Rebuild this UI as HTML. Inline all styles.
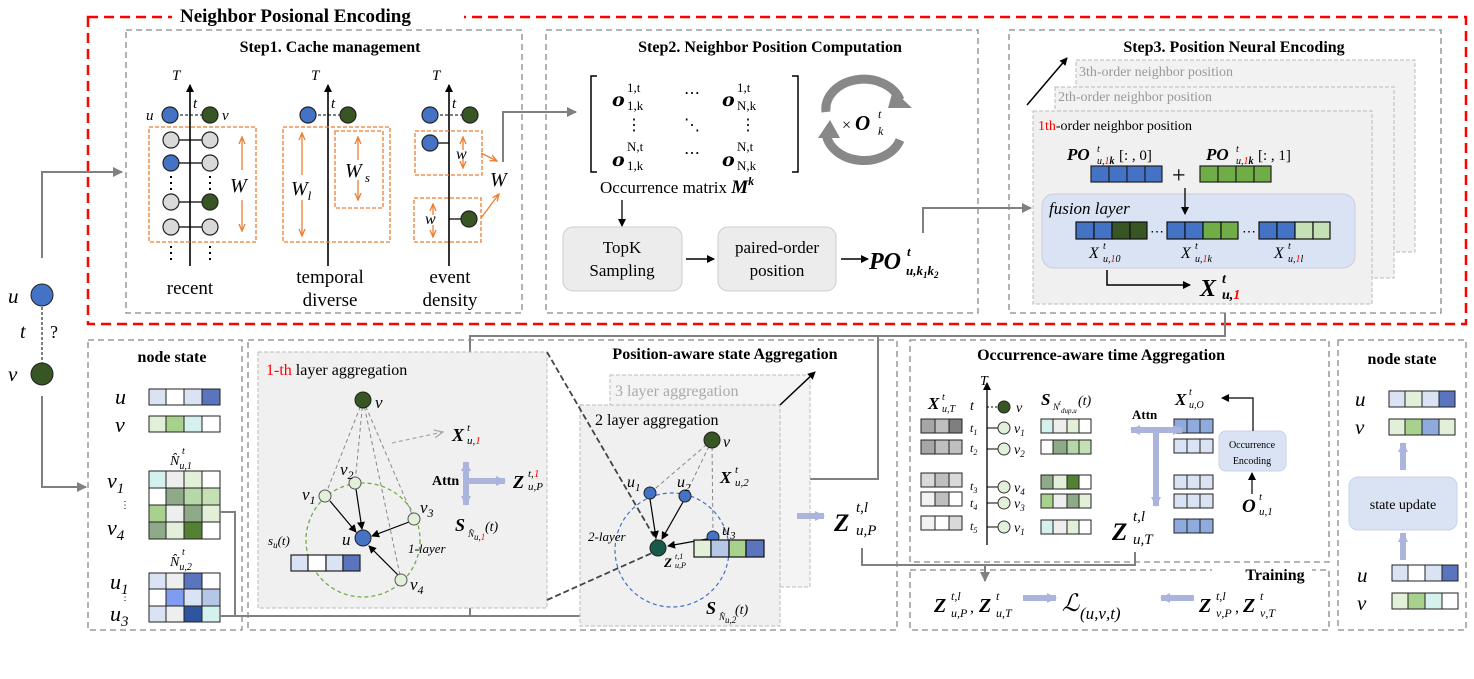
<!DOCTYPE html>
<html><head><meta charset="utf-8"><style>
body{margin:0;background:#fff}
svg{display:block;font-family:"Liberation Serif",serif}
.b{font-weight:bold}
.i{font-style:italic}
</style></head><body>
<svg width="1474" height="679" viewBox="0 0 1474 679" xmlns="http://www.w3.org/2000/svg">
<defs>
<marker id="ak" markerWidth="8" markerHeight="8" refX="7" refY="4" orient="auto" markerUnits="userSpaceOnUse"><path d="M0,0 L8,4 L0,8 z" fill="#000"/></marker>
<marker id="ag" markerWidth="10" markerHeight="10" refX="9" refY="5" orient="auto" markerUnits="userSpaceOnUse"><path d="M0,0 L10,5 L0,10 z" fill="#808080"/></marker>
<marker id="ao" markerWidth="8" markerHeight="8" refX="7" refY="4" orient="auto" markerUnits="userSpaceOnUse"><path d="M0,1 L7,4 L0,7" fill="none" stroke="#ed7d31" stroke-width="1.3"/></marker>
<marker id="al" markerWidth="10" markerHeight="10" refX="9" refY="5" orient="auto" markerUnits="userSpaceOnUse"><path d="M0,0 L10,5 L0,10 z" fill="#aab4dc"/></marker>
<marker id="ad" markerWidth="10" markerHeight="10" refX="9" refY="5" orient="auto" markerUnits="userSpaceOnUse"><path d="M0,1 L9,5 L0,9" fill="none" stroke="#aaa" stroke-width="1.3"/></marker>
</defs>

<!-- red dashed -->
<rect x="88" y="17" width="1378" height="307" fill="none" stroke="#f00" stroke-width="2.5" stroke-dasharray="10,6"/>
<rect x="172" y="2" width="292" height="26" fill="#fff"/>
<text x="180" y="22" font-size="19" class="b">Neighbor Posional Encoding</text>

<!-- Step1 -->
<rect x="126" y="30" width="396" height="283" fill="none" stroke="#888" stroke-width="1.3" stroke-dasharray="6,4"/>
<text x="330" y="52" font-size="16" class="b" text-anchor="middle">Step1. Cache management</text>
<g stroke="#000" stroke-width="1.6">
<line x1="190" y1="266" x2="190" y2="85" marker-end="url(#ak)"/>
<line x1="328" y1="266" x2="328" y2="85" marker-end="url(#ak)"/>
<line x1="449" y1="266" x2="449" y2="85" marker-end="url(#ak)"/>
</g>
<g font-size="15" class="i"><text x="172" y="80">T</text><text x="311" y="80">T</text><text x="432" y="80">T</text>
<text x="193" y="108">t</text><text x="331" y="108">t</text><text x="452" y="108">t</text>
<text x="146" y="120">u</text><text x="222" y="120">ν</text></g>
<g stroke="#000" stroke-dasharray="3,2"><line x1="170" y1="115" x2="210" y2="115"/><line x1="308" y1="115" x2="348" y2="115"/><line x1="430" y1="115" x2="470" y2="115"/></g>
<g stroke="#000" stroke-width="1.3">
<line x1="171" y1="140" x2="210" y2="140"/><line x1="171" y1="163" x2="210" y2="163"/><line x1="171" y1="202" x2="210" y2="202"/><line x1="171" y1="227" x2="210" y2="227"/>
<line x1="430" y1="143" x2="449" y2="143"/><line x1="449" y1="219" x2="469" y2="219"/>
</g>
<g stroke="#222" stroke-width="1.2">
<circle cx="170" cy="115" r="8" fill="#4472c4"/><circle cx="210" cy="115" r="8" fill="#375623"/>
<circle cx="308" cy="115" r="8" fill="#4472c4"/><circle cx="348" cy="115" r="8" fill="#375623"/>
<circle cx="430" cy="115" r="8" fill="#4472c4"/><circle cx="470" cy="115" r="8" fill="#375623"/>
<circle cx="171" cy="140" r="8" fill="#d9d9d9"/><circle cx="210" cy="140" r="8" fill="#d9d9d9"/>
<circle cx="171" cy="163" r="8" fill="#4472c4"/><circle cx="210" cy="163" r="8" fill="#d9d9d9"/>
<circle cx="171" cy="202" r="8" fill="#d9d9d9"/><circle cx="210" cy="202" r="8" fill="#375623"/>
<circle cx="171" cy="227" r="8" fill="#d9d9d9"/><circle cx="210" cy="227" r="8" fill="#d9d9d9"/>
<circle cx="430" cy="143" r="8" fill="#4472c4"/><circle cx="469" cy="219" r="8" fill="#375623"/>
</g>
<g stroke="#000" stroke-width="2" stroke-dasharray="2,4"><line x1="171" y1="176" x2="171" y2="192"/><line x1="210" y1="176" x2="210" y2="192"/><line x1="171" y1="246" x2="171" y2="262"/><line x1="210" y1="246" x2="210" y2="262"/></g>
<g fill="none" stroke="#ed7d31" stroke-width="1.3" stroke-dasharray="4,2">
<rect x="149" y="127" width="107" height="115"/><rect x="283" y="127" width="107" height="115"/><rect x="335" y="131" width="48" height="77"/>
<rect x="415" y="131" width="67" height="44"/><rect x="414" y="198" width="67" height="44"/></g>
<g stroke="#ed7d31" stroke-width="1.3">
<line x1="242" y1="170" x2="242" y2="137" marker-end="url(#ao)"/><line x1="242" y1="200" x2="242" y2="231" marker-end="url(#ao)"/>
<line x1="302" y1="175" x2="302" y2="133" marker-end="url(#ao)"/><line x1="302" y1="200" x2="302" y2="236" marker-end="url(#ao)"/>
<line x1="358" y1="160" x2="358" y2="137" marker-end="url(#ao)"/><line x1="358" y1="180" x2="358" y2="200" marker-end="url(#ao)"/>
<line x1="463" y1="150" x2="463" y2="137" marker-end="url(#ao)"/><line x1="463" y1="158" x2="463" y2="168" marker-end="url(#ao)"/>
<line x1="433" y1="215" x2="433" y2="204" marker-end="url(#ao)"/><line x1="433" y1="225" x2="433" y2="237" marker-end="url(#ao)"/>
<line x1="481" y1="153" x2="497" y2="161" marker-end="url(#ao)"/><line x1="481" y1="218" x2="499" y2="194" marker-end="url(#ao)"/>
</g>
<g font-size="20" class="i"><text x="230" y="192">W</text><text x="291" y="195">W<tspan font-size="13" dy="5">l</tspan></text><text x="345" y="177">W<tspan font-size="13" dy="5"> s</tspan></text><text x="490" y="186">W</text></g>
<g font-size="16" class="i"><text x="456" y="159">w</text><text x="425" y="224">w</text></g>
<g font-size="19" text-anchor="middle"><text x="190" y="294">recent</text><text x="330" y="283">temporal</text><text x="330" y="306">diverse</text><text x="450" y="283">event</text><text x="450" y="306">density</text></g>
<polyline points="503,162 503,112 576,112" fill="none" stroke="#808080" stroke-width="2" marker-end="url(#ag)"/>

<!-- Step2 -->
<rect x="546" y="30" width="432" height="283" fill="none" stroke="#888" stroke-width="1.3" stroke-dasharray="6,4"/>
<text x="770" y="52" font-size="16" class="b" text-anchor="middle">Step2. Neighbor Position Computation</text>
<path d="M597,76 H591 V172 H597 M792,76 H798 V172 H792" fill="none" stroke="#000" stroke-width="1.5"/>
<g font-size="19" class="b i" font-family="DejaVu Serif,serif">
<text x="612" y="106">o</text><text x="722" y="106">o</text><text x="612" y="166">o</text><text x="722" y="166">o</text></g>
<g font-size="13"><text x="627" y="92">1,t</text><text x="627" y="110">1,k</text><text x="737" y="92">1,t</text><text x="737" y="110">N,k</text>
<text x="627" y="151">N,t</text><text x="627" y="170">1,k</text><text x="737" y="151">N,t</text><text x="737" y="170">N,k</text></g>
<g font-size="16" text-anchor="middle"><text x="692" y="98">⋯</text><text x="692" y="158">⋯</text><text x="634" y="130">⋮</text><text x="748" y="130">⋮</text><text x="692" y="130">⋱</text></g>
<text x="600" y="193" font-size="17">Occurrence matrix <tspan class="b i" font-size="19">M</tspan><tspan class="b i" font-size="12" dy="-8">k</tspan></text>
<path d="M826,112 A38,30 0 0 1 900,100" fill="none" stroke="#888" stroke-width="9"/>
<path d="M893,90 L912,108 L888,108 z" fill="#888"/>
<path d="M900,140 A38,30 0 0 1 826,132" fill="none" stroke="#888" stroke-width="9"/>
<path d="M818,138 L830,120 L840,138 z" fill="#888"/>
<text x="842" y="130" font-size="16">× <tspan class="b i" font-size="21">O</tspan></text>
<text x="878" y="118" font-size="12" class="i">t</text><text x="878" y="135" font-size="12" class="i">k</text>
<line x1="622" y1="200" x2="622" y2="226" stroke="#000" stroke-width="1.3" marker-end="url(#ak)"/>
<rect x="563" y="227" width="119" height="64" rx="10" fill="#ececec" stroke="#ccc"/>
<rect x="718" y="227" width="118" height="64" rx="10" fill="#ececec" stroke="#ccc"/>
<g font-size="17" text-anchor="middle"><text x="622" y="253">TopK</text><text x="622" y="276">Sampling</text><text x="777" y="253">paired-order</text><text x="777" y="276">position</text></g>
<line x1="686" y1="259" x2="714" y2="259" stroke="#000" stroke-width="1.5" marker-end="url(#ak)"/>
<line x1="841" y1="259" x2="868" y2="259" stroke="#000" stroke-width="1.5" marker-end="url(#ak)"/>
<text x="869" y="269" font-size="24" class="b i">PO</text>
<text x="907" y="256" font-size="13" class="b i">t</text><text x="906" y="275" font-size="13" class="b i">u,k<tspan font-size="9" dy="3">1</tspan><tspan dy="-3">k</tspan><tspan font-size="9" dy="3">2</tspan></text>
<polyline points="923,233 923,208 1031,208" fill="none" stroke="#808080" stroke-width="2" marker-end="url(#ag)"/>

<!-- Step3 -->
<rect x="1009" y="30" width="432" height="283" fill="none" stroke="#888" stroke-width="1.3" stroke-dasharray="6,4"/>
<text x="1234" y="52" font-size="16" class="b" text-anchor="middle">Step3. Position Neural Encoding</text>
<rect x="1076" y="60" width="339" height="192" fill="#f2f2f2" stroke="#bbb" stroke-dasharray="4,2"/>
<rect x="1055" y="87" width="339" height="191" fill="#f2f2f2" stroke="#bbb" stroke-dasharray="4,2"/>
<rect x="1033" y="111" width="339" height="193" fill="#f0f0f0" stroke="#bbb" stroke-dasharray="4,2"/>
<text x="1079" y="76" font-size="14" fill="#999">3th-order neighbor position</text>
<text x="1058" y="101" font-size="14" fill="#999">2th-order neighbor position</text>
<text x="1038" y="130" font-size="14"><tspan fill="#f00">1th</tspan>-order neighbor position</text>
<line x1="1027" y1="105" x2="1067" y2="58" stroke="#000" stroke-width="1.5" marker-end="url(#ak)"/>
<text x="1067" y="160" font-size="17" class="b i">PO</text><text x="1097" y="152" font-size="10" class="i">t</text><text x="1097" y="164" font-size="10" class="i">u,<tspan fill="#f00">1</tspan><tspan class="b">k</tspan></text><text x="1119" y="160" font-size="15">[: , 0]</text>
<text x="1206" y="160" font-size="17" class="b i">PO</text><text x="1236" y="152" font-size="10" class="i">t</text><text x="1236" y="164" font-size="10" class="i">u,<tspan fill="#f00">1</tspan><tspan class="b">k</tspan></text><text x="1258" y="160" font-size="15">[: , 1]</text>
<g stroke="#222" stroke-width="1.2">
<rect x="1091" y="166" width="18" height="16" fill="#4472c4"/><rect x="1109" y="166" width="18" height="16" fill="#4472c4"/><rect x="1127" y="166" width="18" height="16" fill="#4472c4"/><rect x="1145" y="166" width="17" height="16" fill="#4472c4"/>
<rect x="1200" y="166" width="18" height="16" fill="#70ad47"/><rect x="1218" y="166" width="18" height="16" fill="#70ad47"/><rect x="1236" y="166" width="18" height="16" fill="#70ad47"/><rect x="1254" y="166" width="17" height="16" fill="#70ad47"/>
</g>
<text x="1172" y="183" font-size="24">+</text>
<rect x="1042" y="194" width="313" height="74" rx="12" fill="#dae3f3" stroke="#ccd"/>
<line x1="1185" y1="188" x2="1185" y2="214" stroke="#000" stroke-width="1.3" marker-end="url(#ak)"/>
<text x="1049" y="214" font-size="17" class="i">fusion layer</text>
<g stroke="#111" stroke-width="1.2">
<rect x="1076" y="222" width="18" height="17" fill="#4472c4"/><rect x="1094" y="222" width="18" height="17" fill="#4472c4"/><rect x="1112" y="222" width="18" height="17" fill="#375623"/><rect x="1130" y="222" width="17" height="17" fill="#375623"/>
<rect x="1167" y="222" width="18" height="17" fill="#4472c4"/><rect x="1185" y="222" width="18" height="17" fill="#4472c4"/><rect x="1203" y="222" width="18" height="17" fill="#70ad47"/><rect x="1221" y="222" width="17" height="17" fill="#70ad47"/>
<rect x="1259" y="222" width="18" height="17" fill="#4472c4"/><rect x="1277" y="222" width="18" height="17" fill="#4472c4"/><rect x="1295" y="222" width="18" height="17" fill="#c5e0b4"/><rect x="1313" y="222" width="17" height="17" fill="#c5e0b4"/>
</g>
<text x="1150" y="236" font-size="14">⋯</text><text x="1242" y="236" font-size="14">⋯</text>
<g font-size="16" class="i"><text x="1089" y="258">X</text><text x="1181" y="258">X</text><text x="1274" y="258">X</text></g>
<g font-size="10" class="i"><text x="1103" y="249">t</text><text x="1103" y="262">u,<tspan fill="#f00">1</tspan>0</text><text x="1195" y="249">t</text><text x="1195" y="262">u,<tspan fill="#f00">1</tspan>k</text><text x="1288" y="249">t</text><text x="1288" y="262">u,<tspan fill="#f00">1</tspan>l</text></g>
<polyline points="1107,270 1107,285 1190,285" fill="none" stroke="#000" stroke-width="1.5" marker-end="url(#ak)"/>
<text x="1200" y="296" font-size="24" class="b i">X</text><text x="1222" y="283" font-size="14" class="b i">t</text><text x="1222" y="299" font-size="14" class="b i">u,<tspan fill="#f00">1</tspan></text>

<!-- connections top->bottom -->
<polyline points="1225,313 1225,336 470,336 470,414" fill="none" stroke="#808080" stroke-width="2" marker-end="url(#ag)"/>
<polyline points="878,336 878,479 758,479" fill="none" stroke="#808080" stroke-width="2" marker-end="url(#ag)"/>

<!-- left nodes -->
<text x="8" y="303" font-size="21" class="i">u</text>
<text x="20" y="338" font-size="20" class="i">t</text><text x="50" y="338" font-size="18">?</text>
<text x="8" y="381" font-size="21" class="i">ν</text>
<line x1="42" y1="307" x2="42" y2="364" stroke="#000" stroke-dasharray="3,2"/>
<circle cx="42" cy="295" r="11" fill="#4472c4" stroke="#222"/>
<circle cx="42" cy="374" r="11" fill="#375623" stroke="#222"/>
<polyline points="42,258 42,172 122,172" fill="none" stroke="#808080" stroke-width="2" marker-end="url(#ag)"/>
<polyline points="42,396 42,487 86,487" fill="none" stroke="#808080" stroke-width="2" marker-end="url(#ag)"/>

<!-- left node state -->
<rect x="88" y="340" width="154" height="290" fill="none" stroke="#888" stroke-width="1.3" stroke-dasharray="6,4"/>
<text x="172" y="362" font-size="16" class="b" text-anchor="middle">node state</text>
<g font-size="22" class="i"><text x="115" y="404">u</text><text x="115" y="432">ν</text><text x="107" y="488">ν<tspan font-size="15" dy="5">1</tspan></text><text x="107" y="535">ν<tspan font-size="15" dy="5">4</tspan></text><text x="110" y="589">u<tspan font-size="15" dy="5">1</tspan></text><text x="110" y="621">u<tspan font-size="15" dy="5">3</tspan></text></g>
<text x="120" y="508" font-size="10">⋮</text><text x="120" y="600" font-size="10">⋮</text>
<text x="170" y="465" font-size="14" class="i">N̂<tspan font-size="10" dy="4">u,1</tspan></text><text x="182" y="454" font-size="10" class="i">t</text>
<text x="170" y="566" font-size="14" class="i">N̂<tspan font-size="10" dy="4">u,2</tspan></text><text x="182" y="555" font-size="10" class="i">t</text>
<g stroke="#222" stroke-width="1">
<rect x="149" y="389" width="17" height="16" fill="#dae3f3"/><rect x="166" y="389" width="18" height="16" fill="#fff"/><rect x="184" y="389" width="18" height="16" fill="#dae3f3"/><rect x="202" y="389" width="18" height="16" fill="#5b74be"/>
<rect x="149" y="416" width="17" height="16" fill="#e2efd9"/><rect x="166" y="416" width="18" height="16" fill="#a9d18e"/><rect x="184" y="416" width="18" height="16" fill="#d5f1ee"/><rect x="202" y="416" width="18" height="16" fill="#fff"/>
<rect x="149" y="471" width="17" height="17" fill="#d5f1ee"/><rect x="166" y="471" width="18" height="17" fill="#eee"/><rect x="184" y="471" width="18" height="17" fill="#e2efd9"/><rect x="202" y="471" width="18" height="17" fill="#fff"/>
<rect x="149" y="488" width="17" height="17" fill="#fff"/><rect x="166" y="488" width="18" height="17" fill="#8faa88"/><rect x="184" y="488" width="18" height="17" fill="#b6d7a8"/><rect x="202" y="488" width="18" height="17" fill="#c5e0b4"/>
<rect x="149" y="505" width="17" height="17" fill="#a9d18e"/><rect x="166" y="505" width="18" height="17" fill="#eee"/><rect x="184" y="505" width="18" height="17" fill="#8faa88"/><rect x="202" y="505" width="18" height="17" fill="#e2efd9"/>
<rect x="149" y="522" width="17" height="17" fill="#8faa88"/><rect x="166" y="522" width="18" height="17" fill="#e2efd9"/><rect x="184" y="522" width="18" height="17" fill="#548235"/><rect x="202" y="522" width="18" height="17" fill="#fff"/>
<rect x="149" y="573" width="17" height="16" fill="#dae3f3"/><rect x="166" y="573" width="18" height="16" fill="#eee"/><rect x="184" y="573" width="18" height="16" fill="#5b74be"/><rect x="202" y="573" width="18" height="16" fill="#fff"/>
<rect x="149" y="589" width="17" height="17" fill="#fff"/><rect x="166" y="589" width="18" height="17" fill="#7f9cf0"/><rect x="184" y="589" width="18" height="17" fill="#dae3f3"/><rect x="202" y="589" width="18" height="17" fill="#b4c7e7"/>
<rect x="149" y="606" width="17" height="16" fill="#dae3f3"/><rect x="166" y="606" width="18" height="16" fill="#eee"/><rect x="184" y="606" width="18" height="16" fill="#2f55a0"/><rect x="202" y="606" width="18" height="16" fill="#d5f1ee"/>
</g>
<polyline points="220,512 235,512 235,616" fill="none" stroke="#808080" stroke-width="2"/>
<polyline points="220,616 704,616" fill="none" stroke="#808080" stroke-width="2" marker-end="url(#ag)"/>
<line x1="470" y1="616" x2="470" y2="545" stroke="#808080" stroke-width="2" marker-end="url(#ag)"/>

<!-- Position-aware -->
<rect x="248" y="340" width="649" height="290" fill="none" stroke="#888" stroke-width="1.3" stroke-dasharray="6,4"/>
<rect x="560" y="343" width="308" height="22" fill="#fff"/>
<text x="725" y="359" font-size="16" class="b" text-anchor="middle">Position-aware state Aggregation</text>
<rect x="258" y="352" width="289" height="256" fill="#f0f0f0" stroke="#bbb" stroke-dasharray="4,2"/>
<text x="266" y="375" font-size="16"><tspan fill="#f00">1-th</tspan> layer aggregation</text>
<rect x="610" y="375" width="200" height="212" fill="#f4f4f4" stroke="#bbb" stroke-dasharray="4,2"/>
<text x="615" y="396" font-size="16" fill="#aaa">3 layer aggregation</text>
<rect x="580" y="405" width="200" height="221" fill="#f0f0f0" stroke="#bbb" stroke-dasharray="4,2"/>
<text x="595" y="425" font-size="16">2 layer aggregation</text>
<line x1="780" y1="405" x2="815" y2="372" stroke="#000" stroke-width="1.5" marker-end="url(#ak)"/>
<!-- 1-th graph -->
<circle cx="363" cy="540" r="57" fill="none" stroke="#70ad47" stroke-width="1.3" stroke-dasharray="4,3"/>
<g stroke="#888" stroke-dasharray="4,3"><line x1="363" y1="400" x2="325" y2="496"/><line x1="363" y1="400" x2="355" y2="483"/><line x1="363" y1="400" x2="414" y2="519"/><line x1="363" y1="400" x2="401" y2="580"/></g>
<line x1="392" y1="443" x2="443" y2="432" stroke="#aaa" stroke-width="1.3" stroke-dasharray="4,3" marker-end="url(#ad)"/>
<g stroke="#000" stroke-width="1.2"><line x1="330" y1="501" x2="356" y2="532" marker-end="url(#ak)"/><line x1="356" y1="489" x2="362" y2="529" marker-end="url(#ak)"/><line x1="409" y1="522" x2="372" y2="536" marker-end="url(#ak)"/><line x1="398" y1="575" x2="369" y2="546" marker-end="url(#ak)"/></g>
<circle cx="363" cy="400" r="8" fill="#375623" stroke="#222"/>
<circle cx="363" cy="538" r="8" fill="#4472c4" stroke="#222"/>
<g fill="#e2efd9" stroke="#555"><circle cx="325" cy="496" r="6"/><circle cx="355" cy="483" r="6"/><circle cx="414" cy="519" r="6"/><circle cx="401" cy="580" r="6"/></g>
<g font-size="17" class="i"><text x="375" y="408">ν</text><text x="340" y="475">ν<tspan font-size="12" dy="4">2</tspan></text><text x="302" y="500">ν<tspan font-size="12" dy="4">1</tspan></text><text x="420" y="513">ν<tspan font-size="12" dy="4">3</tspan></text><text x="410" y="590">ν<tspan font-size="12" dy="4">4</tspan></text><text x="342" y="545">u</text></g>
<text x="408" y="553" font-size="13" class="i">1-layer</text>
<text x="268" y="545" font-size="13" class="i">s<tspan font-size="9" dy="3">u</tspan><tspan dy="-3">(t)</tspan></text>
<g stroke="#222" stroke-width="1.2"><rect x="291" y="555" width="17" height="16" fill="#dae3f3"/><rect x="308" y="555" width="18" height="16" fill="#fff"/><rect x="326" y="555" width="17" height="16" fill="#dae3f3"/><rect x="343" y="555" width="17" height="16" fill="#5b74be"/></g>
<text x="452" y="441" font-size="18" class="b i">X</text><text x="467" y="431" font-size="11" class="i">t</text><text x="467" y="444" font-size="11" class="i">u,<tspan fill="#f00">1</tspan></text>
<text x="432" y="485" font-size="14" class="b">Attn</text>
<line x1="466" y1="482" x2="466" y2="462" stroke="#aab4dc" stroke-width="6" marker-end="url(#al)"/>
<line x1="466" y1="482" x2="466" y2="505" stroke="#aab4dc" stroke-width="6" marker-end="url(#al)"/>
<line x1="466" y1="481" x2="505" y2="481" stroke="#aab4dc" stroke-width="6" marker-end="url(#al)"/>
<text x="513" y="488" font-size="18" class="b i">Z</text><text x="528" y="477" font-size="11" class="i">t,<tspan fill="#f00">1</tspan></text><text x="528" y="490" font-size="11" class="i">u,P</text>
<text x="455" y="531" font-size="18" class="b i">S</text><text x="468" y="537" font-size="9" class="i">N̂<tspan dy="3">u,<tspan fill="#f00">1</tspan></tspan></text><text x="485" y="531" font-size="14" class="i">(t)</text>
<!-- crossing dashed -->
<line x1="547" y1="352" x2="656" y2="540" stroke="#444" stroke-width="1.8" stroke-dasharray="6,3"/>
<line x1="547" y1="600" x2="652" y2="553" stroke="#444" stroke-width="1.8" stroke-dasharray="6,3"/>
<!-- 2 layer graph -->
<circle cx="672" cy="550" r="57" fill="none" stroke="#4472c4" stroke-width="1.2" stroke-dasharray="4,3"/>
<g stroke="#888" stroke-dasharray="4,3"><line x1="712" y1="440" x2="650" y2="493"/><line x1="712" y1="440" x2="685" y2="496"/><line x1="712" y1="440" x2="713" y2="537"/></g>
<g stroke="#000" stroke-width="1.2"><line x1="650" y1="499" x2="656" y2="538" marker-end="url(#ak)"/><line x1="683" y1="502" x2="662" y2="539" marker-end="url(#ak)"/><line x1="707" y1="539" x2="668" y2="546" marker-end="url(#ak)"/></g>
<circle cx="712" cy="440" r="8" fill="#375623" stroke="#222"/>
<g fill="#4472c4" stroke="#222"><circle cx="650" cy="493" r="6"/><circle cx="685" cy="496" r="6"/><circle cx="713" cy="537" r="6"/></g>
<circle cx="658" cy="548" r="8" fill="#17594a" stroke="#222"/>
<g font-size="16" class="i"><text x="723" y="447">ν</text><text x="627" y="487">u<tspan font-size="11" dy="4">1</tspan></text><text x="677" y="487">u<tspan font-size="11" dy="4">2</tspan></text><text x="722" y="535">u<tspan font-size="11" dy="4">3</tspan></text></g>
<text x="588" y="541" font-size="13" class="i">2-layer</text>
<text x="664" y="567" font-size="13" class="b i">Z</text><text x="675" y="559" font-size="8" class="i">t,1</text><text x="675" y="568" font-size="8" class="i">u,P</text>
<g stroke="#111" stroke-width="1.2"><rect x="694" y="540" width="17" height="17" fill="#e2efd9"/><rect x="711" y="540" width="18" height="17" fill="#b4c7e7"/><rect x="729" y="540" width="17" height="17" fill="#a9d18e"/><rect x="746" y="540" width="18" height="17" fill="#5b74be"/></g>
<text x="720" y="483" font-size="17" class="b i">X</text><text x="735" y="473" font-size="11" class="i">t</text><text x="735" y="486" font-size="11" class="i">u,2</text>
<text x="706" y="614" font-size="18" class="b i">S</text><text x="719" y="620" font-size="9" class="i">N̂<tspan dy="3">u,2</tspan></text><text x="735" y="614" font-size="14" class="i">(t)</text>
<line x1="797" y1="516" x2="824" y2="516" stroke="#aab4dc" stroke-width="6" marker-end="url(#al)"/>
<text x="834" y="531" font-size="25" class="b i">Z</text><text x="856" y="512" font-size="15" class="i">t,l</text><text x="856" y="535" font-size="15" class="i">u,P</text>
<polyline points="862,548 862,565 985,565 985,581" fill="none" stroke="#808080" stroke-width="2" marker-end="url(#ag)"/>

<!-- Occurrence-aware -->
<rect x="910" y="340" width="419" height="222" fill="none" stroke="#888" stroke-width="1.3" stroke-dasharray="6,4"/>
<text x="1225" y="360" font-size="16" class="b" text-anchor="end">Occurrence-aware time Aggregation</text>
<line x1="987" y1="545" x2="987" y2="383" stroke="#000" stroke-width="1.3" marker-end="url(#ak)"/>
<text x="980" y="385" font-size="14" class="i">T</text>
<text x="928" y="409" font-size="17" class="b i">X</text><text x="942" y="400" font-size="10" class="i">t</text><text x="942" y="412" font-size="10" class="i">u,T</text>
<text x="970" y="410" font-size="14" class="i">t</text>
<line x1="987" y1="407" x2="1005" y2="407" stroke="#000" stroke-dasharray="2,2"/>
<circle cx="1004" cy="407" r="6" fill="#375623" stroke="#222"/>
<text x="1016" y="412" font-size="14" class="i">ν</text>
<g font-size="12" class="i"><text x="970" y="432">t<tspan font-size="8" dy="3">1</tspan></text><text x="970" y="452">t<tspan font-size="8" dy="3">2</tspan></text><text x="970" y="490">t<tspan font-size="8" dy="3">3</tspan></text><text x="970" y="507">t<tspan font-size="8" dy="3">4</tspan></text><text x="970" y="530">t<tspan font-size="8" dy="3">5</tspan></text></g>
<g stroke="#000"><line x1="987" y1="428" x2="998" y2="428"/><line x1="987" y1="449" x2="998" y2="449"/><line x1="987" y1="487" x2="998" y2="487"/><line x1="987" y1="503" x2="998" y2="503"/><line x1="987" y1="527" x2="998" y2="527"/></g>
<g fill="#e2efd9" stroke="#333"><circle cx="1004" cy="428" r="6"/><circle cx="1004" cy="449" r="6"/><circle cx="1004" cy="487" r="6"/><circle cx="1004" cy="503" r="6"/><circle cx="1004" cy="527" r="6"/></g>
<g font-size="14" class="i"><text x="1014" y="433">ν<tspan font-size="9" dy="3">1</tspan></text><text x="1014" y="454">ν<tspan font-size="9" dy="3">2</tspan></text><text x="1014" y="492">ν<tspan font-size="9" dy="3">4</tspan></text><text x="1014" y="508">ν<tspan font-size="9" dy="3">3</tspan></text><text x="1014" y="532">ν<tspan font-size="9" dy="3">1</tspan></text></g>
<g stroke="#222" stroke-width="1">
<rect x="921" y="419" width="14" height="14" fill="#a6a6a6"/><rect x="935" y="419" width="14" height="14" fill="#bfbfbf"/><rect x="949" y="419" width="13" height="14" fill="#7f7f7f"/>
<rect x="921" y="440" width="14" height="14" fill="#a6a6a6"/><rect x="935" y="440" width="14" height="14" fill="#bfbfbf"/><rect x="949" y="440" width="13" height="14" fill="#bfbfbf"/>
<rect x="921" y="473" width="14" height="14" fill="#d9d9d9"/><rect x="935" y="473" width="14" height="14" fill="#bfbfbf"/><rect x="949" y="473" width="13" height="14" fill="#d9d9d9"/>
<rect x="921" y="492" width="14" height="14" fill="#f2f2f2"/><rect x="935" y="492" width="14" height="14" fill="#bfbfbf"/><rect x="949" y="492" width="13" height="14" fill="#fff"/>
<rect x="921" y="516" width="14" height="14" fill="#f2f2f2"/><rect x="935" y="516" width="14" height="14" fill="#fff"/><rect x="949" y="516" width="13" height="14" fill="#d9d9d9"/>
<rect x="1041" y="419" width="12" height="14" fill="#d5f1ee"/><rect x="1053" y="419" width="14" height="14" fill="#eee"/><rect x="1067" y="419" width="12" height="14" fill="#e2efd9"/><rect x="1079" y="419" width="12" height="14" fill="#fff"/>
<rect x="1041" y="440" width="12" height="14" fill="#fff"/><rect x="1053" y="440" width="14" height="14" fill="#8faa88"/><rect x="1067" y="440" width="12" height="14" fill="#b6d7a8"/><rect x="1079" y="440" width="12" height="14" fill="#c5e0b4"/>
<rect x="1041" y="475" width="12" height="14" fill="#8faa88"/><rect x="1053" y="475" width="14" height="14" fill="#e2efd9"/><rect x="1067" y="475" width="12" height="14" fill="#548235"/><rect x="1079" y="475" width="12" height="14" fill="#fff"/>
<rect x="1041" y="494" width="12" height="14" fill="#a9d18e"/><rect x="1053" y="494" width="14" height="14" fill="#eee"/><rect x="1067" y="494" width="12" height="14" fill="#8faa88"/><rect x="1079" y="494" width="12" height="14" fill="#e2efd9"/>
<rect x="1041" y="520" width="12" height="14" fill="#d5f1ee"/><rect x="1053" y="520" width="14" height="14" fill="#eee"/><rect x="1067" y="520" width="12" height="14" fill="#e2efd9"/><rect x="1079" y="520" width="12" height="14" fill="#fff"/>
<rect x="1174" y="419" width="13" height="14" fill="#8faadc"/><rect x="1187" y="419" width="13" height="14" fill="#8faadc"/><rect x="1200" y="419" width="13" height="14" fill="#8faadc"/>
<rect x="1174" y="439" width="13" height="14" fill="#dae3f3"/><rect x="1187" y="439" width="13" height="14" fill="#dae3f3"/><rect x="1200" y="439" width="13" height="14" fill="#dae3f3"/>
<rect x="1174" y="475" width="13" height="14" fill="#dae3f3"/><rect x="1187" y="475" width="13" height="14" fill="#dae3f3"/><rect x="1200" y="475" width="13" height="14" fill="#dae3f3"/>
<rect x="1174" y="494" width="13" height="14" fill="#dae3f3"/><rect x="1187" y="494" width="13" height="14" fill="#dae3f3"/><rect x="1200" y="494" width="13" height="14" fill="#dae3f3"/>
<rect x="1174" y="519" width="13" height="14" fill="#8faadc"/><rect x="1187" y="519" width="13" height="14" fill="#8faadc"/><rect x="1200" y="519" width="13" height="14" fill="#8faadc"/>
</g>
<text x="1041" y="405" font-size="17" class="b i">S</text><text x="1053" y="410" font-size="9" class="i">N<tspan font-size="7" dy="-5">t</tspan><tspan font-size="7" dy="8">dup,u</tspan></text><text x="1078" y="405" font-size="14" class="i">(t)</text>
<text x="1132" y="419" font-size="13" class="b">Attn</text>
<line x1="1156" y1="430" x2="1131" y2="430" stroke="#aab4dc" stroke-width="6" marker-end="url(#al)"/>
<line x1="1156" y1="430" x2="1182" y2="430" stroke="#aab4dc" stroke-width="6" marker-end="url(#al)"/>
<line x1="1156" y1="430" x2="1156" y2="506" stroke="#aab4dc" stroke-width="6" marker-end="url(#al)"/>
<text x="1112" y="540" font-size="25" class="b i">Z</text><text x="1133" y="521" font-size="15" class="i">t,l</text><text x="1133" y="544" font-size="15" class="i">u,T</text>
<text x="1175" y="405" font-size="17" class="b i">X</text><text x="1189" y="395" font-size="10" class="i">t</text><text x="1189" y="408" font-size="10" class="i">u,O</text>
<rect x="1219" y="431" width="67" height="40" rx="7" fill="#dae3f3" stroke="#c8d0e8"/>
<text x="1252" y="448" font-size="10" text-anchor="middle">Occurrence</text><text x="1252" y="464" font-size="10" text-anchor="middle">Encoding</text>
<polyline points="1253,431 1253,398 1222,398" fill="none" stroke="#000" stroke-width="1.2" marker-end="url(#ak)"/>
<line x1="1252" y1="494" x2="1252" y2="473" stroke="#000" stroke-width="1.2" marker-end="url(#ak)"/>
<text x="1242" y="512" font-size="19" class="b i">O</text><text x="1259" y="500" font-size="11" class="i">t</text><text x="1259" y="515" font-size="11" class="i">u,1</text>
<polyline points="1135,552 1135,565 985,565" fill="none" stroke="#808080" stroke-width="2"/>

<!-- Training -->
<rect x="910" y="570" width="419" height="60" fill="none" stroke="#888" stroke-width="1.3" stroke-dasharray="6,4"/>
<rect x="1212" y="563" width="100" height="20" fill="#fff"/>
<text x="1275" y="580" font-size="16" class="b" text-anchor="middle">Training</text>
<text x="934" y="612" font-size="20" class="b i">Z</text><text x="951" y="600" font-size="12" class="i">t,l</text><text x="951" y="617" font-size="12" class="i">u,P</text><text x="970" y="612" font-size="16">,</text>
<text x="979" y="612" font-size="20" class="b i">Z</text><text x="996" y="600" font-size="12" class="i">t</text><text x="996" y="617" font-size="12" class="i">u,T</text>
<line x1="1023" y1="598" x2="1056" y2="598" stroke="#aab4dc" stroke-width="6" marker-end="url(#al)"/>
<text x="1062" y="611" font-size="24" class="i">ℒ</text><text x="1080" y="619" font-size="17" class="i">(u,ν,t)</text>
<line x1="1194" y1="598" x2="1161" y2="598" stroke="#aab4dc" stroke-width="6" marker-end="url(#al)"/>
<text x="1199" y="612" font-size="20" class="b i">Z</text><text x="1216" y="600" font-size="12" class="i">t,l</text><text x="1216" y="617" font-size="12" class="i">ν,P</text><text x="1235" y="612" font-size="16">,</text>
<text x="1243" y="612" font-size="20" class="b i">Z</text><text x="1260" y="600" font-size="12" class="i">t</text><text x="1260" y="617" font-size="12" class="i">ν,T</text>

<!-- right node state -->
<rect x="1338" y="340" width="128" height="290" fill="none" stroke="#888" stroke-width="1.3" stroke-dasharray="6,4"/>
<text x="1402" y="364" font-size="16" class="b" text-anchor="middle">node state</text>
<g font-size="21" class="i"><text x="1355" y="406">u</text><text x="1355" y="434">ν</text><text x="1357" y="582">u</text><text x="1357" y="610">ν</text></g>
<g stroke="#222" stroke-width="1">
<rect x="1389" y="391" width="16" height="16" fill="#dae3f3"/><rect x="1405" y="391" width="17" height="16" fill="#e2efd9"/><rect x="1422" y="391" width="17" height="16" fill="#dae3f3"/><rect x="1439" y="391" width="16" height="16" fill="#5b74be"/>
<rect x="1389" y="419" width="16" height="16" fill="#e2efd9"/><rect x="1405" y="419" width="17" height="16" fill="#a9d18e"/><rect x="1422" y="419" width="17" height="16" fill="#8faadc"/><rect x="1439" y="419" width="16" height="16" fill="#e2efd9"/>
<rect x="1392" y="565" width="16" height="16" fill="#dae3f3"/><rect x="1408" y="565" width="17" height="16" fill="#fff"/><rect x="1425" y="565" width="17" height="16" fill="#dae3f3"/><rect x="1442" y="565" width="16" height="16" fill="#5b74be"/>
<rect x="1392" y="593" width="16" height="16" fill="#e2efd9"/><rect x="1408" y="593" width="17" height="16" fill="#a9d18e"/><rect x="1425" y="593" width="17" height="16" fill="#d5f1ee"/><rect x="1442" y="593" width="16" height="16" fill="#fff"/>
</g>
<rect x="1349" y="477" width="108" height="53" rx="9" fill="#dae3f3" stroke="#c8d0e8"/>
<text x="1403" y="509" font-size="14" text-anchor="middle">state update</text>
<line x1="1403" y1="470" x2="1403" y2="443" stroke="#aab4dc" stroke-width="6" marker-end="url(#al)"/>
<line x1="1403" y1="560" x2="1403" y2="533" stroke="#aab4dc" stroke-width="6" marker-end="url(#al)"/>
</svg>
</body></html>
